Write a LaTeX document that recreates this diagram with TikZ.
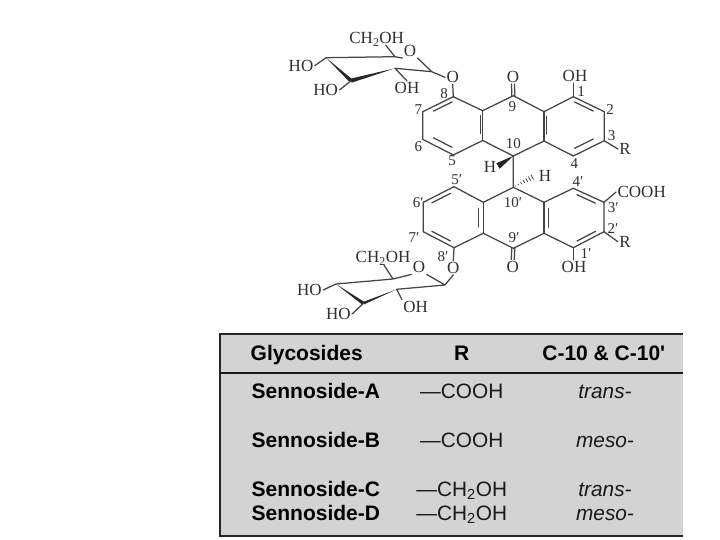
\documentclass[tikz,border=0pt]{standalone}
\usepackage{fontspec}
\setmainfont{Liberation Serif}
\newfontfamily\tabfont{Liberation Sans}
\usetikzlibrary{calc}
\definecolor{bondc}{HTML}{444444}
\definecolor{inkc}{HTML}{303030}
\definecolor{tabbg}{HTML}{D3D3D3}
\tikzset{
  x=1pt,y=-1pt,
  bond/.style={draw=bondc,line width=1.25pt,line cap=round},
  atomlab/.style={inner sep=0pt,outer sep=1.5pt,text=inkc,font=\fontsize{17}{17}\selectfont,text height=11.2pt,text depth=0pt},
  numlab/.style={inner sep=0pt,text=inkc,font=\fontsize{15}{15}\selectfont,text height=10pt,text depth=0pt},
  wedgefill/.style={fill=black!85,draw=none},
  tabbold/.style={inner sep=0pt,text=black,font=\tabfont\bfseries\fontsize{21}{21}\selectfont,text height=15pt,text depth=0pt},
  tabreg/.style={inner sep=0pt,text=black!90,font=\tabfont\fontsize{20.8}{21}\selectfont,text height=14.9pt,text depth=0pt},
  tabital/.style={tabreg,font=\tabfont\itshape\fontsize{20.8}{21}\selectfont},
}
% inner line of a double bond: \dbl{a}{b}{towards}
\newcommand{\dbl}[3]{%
  \draw[bond] (#1) -- (#2);
  \draw[bond] ($(#1)!0.14!(#2)!0.16!(#3)$) -- ($(#2)!0.14!(#1)!0.16!(#3)$);
}
\begin{document}
\begin{tikzpicture}
\useasboundingbox (0,0) rectangle (720,540);
\fill[white] (0,0) rectangle (720,540);

% ---------- table
\fill[tabbg] (220,334.3) rectangle (682.7,536);
\draw[black!85,line width=1.7pt] (682.7,334.3) -- (220,334.3) -- (220,536) -- (682.7,536);
\draw[black!90,line width=2.2pt] (220,372.7) -- (682.7,372.7);
\node[tabbold] (hg) at (306.7,353) {Glycosides};
\node[tabbold] (hr) at (461.7,353) {R};
\node[tabbold] (hc) at (603.8,353) {C-10 \& C-10'};
\node[tabbold,anchor=west] (sa) at (251.5,391) {Sennoside-A};
\node[tabbold,anchor=west] (sb) at (251.5,440) {Sennoside-B};
\node[tabbold,anchor=west] (sc) at (251.5,489) {Sennoside-C};
\node[tabbold,anchor=west] (sd) at (251.5,512.7) {Sennoside-D};
\node[tabreg] (ra) at (461.7,391) {—COOH};
\node[tabreg] (rb) at (461.7,440) {—COOH};
\node[tabreg] (rc) at (461.7,489) {—CH\textsubscript{2}OH};
\node[tabreg] (rd) at (461.7,512.7) {—CH\textsubscript{2}OH};
\node[tabital] (ca) at (605,391.5) {trans-};
\node[tabital] (cb) at (605,440.5) {meso-};
\node[tabital] (cc) at (605,489.5) {trans-};
\node[tabital] (cd) at (605,513) {meso-};

% ---------- upper anthrone skeleton
\coordinate (c1) at (573.3,96.7);
\coordinate (c2) at (604.3,111.7);
\coordinate (c3) at (604.3,140.7);
\coordinate (c4) at (573.3,156);
\coordinate (c4a) at (544,141);
\coordinate (c9a) at (544,111.7);
\coordinate (c9) at (513.3,95.7);
\coordinate (c10) at (513.3,156);
\coordinate (c10a) at (482.7,140.5);
\coordinate (c8a) at (482.7,110.7);
\coordinate (c8) at (453.3,96.7);
\coordinate (c7) at (422.7,111.7);
\coordinate (c6) at (422.7,139.3);
\coordinate (c5) at (453.3,155);
\coordinate (rR) at ($(c1)!0.5!(c4a)$);
\coordinate (rL) at ($(c8)!0.5!(c10a)$);
\coordinate (rM) at ($(c9)!0.5!(c10)$);

\draw[bond] (c8)--(c8a) (c7)--(c6) (c5)--(c10a) (c10a)--(c10) (c10)--(c4a)
  (c8a)--(c9) (c9)--(c9a) (c9a)--(c1) (c2)--(c3) (c4)--(c4a);
\dbl{c8}{c7}{rL}
\dbl{c6}{c5}{rL}
\dbl{c8a}{c10a}{rL}
\dbl{c9a}{c4a}{rR}
\dbl{c1}{c2}{rR}
\dbl{c3}{c4}{rR}

\node[atomlab] (o9) at (513,77) {O};
\draw[bond] ($(c9)+(-1.5,0)$) -- ($(o9.south)+(-1.5,0)$);
\draw[bond] ($(c9)+(1.5,0)$) -- ($(o9.south)+(1.5,0)$);
\node[atomlab] (oh1) at (575,76) {OH};
\draw[bond] (c1) -- (oh1.south -| c1);
\node[atomlab] (r3) at (625,149) {R};
\draw[bond] (c3) -- (r3.west);

% ---------- lower anthrone skeleton
\coordinate (d10) at (513.3,187.3);
\coordinate (d4a) at (544,202.3);
\coordinate (d4) at (573.3,188.3);
\coordinate (d3) at (604,202.3);
\coordinate (d2) at (604,231.7);
\coordinate (d1) at (573.3,247.7);
\coordinate (d9a) at (544,233.3);
\coordinate (d9) at (513.3,248.3);
\coordinate (d8a) at (483.3,233.3);
\coordinate (d10a) at (483.3,202.3);
\coordinate (d5) at (454,186.7);
\coordinate (d6) at (423.3,202.3);
\coordinate (d7) at (423.3,231.7);
\coordinate (d8) at (454,247.7);
\coordinate (sR) at ($(d4)!0.5!(d1)$);
\coordinate (sL) at ($(d5)!0.5!(d8)$);

\draw[bond] (c10)--(d10) (d10)--(d10a) (d10)--(d4a) (d10a)--(d5) (d6)--(d7)
  (d8)--(d8a) (d8a)--(d9) (d9)--(d9a) (d9a)--(d1) (d4a)--(d4) (d3)--(d2);
\dbl{d10a}{d8a}{sL}
\dbl{d5}{d6}{sL}
\dbl{d7}{d8}{sL}
\dbl{d9a}{d4a}{sR}
\dbl{d4}{d3}{sR}
\dbl{d2}{d1}{sR}

\node[atomlab] (o9p) at (512.7,266.7) {O};
\draw[bond] ($(d9)+(-1.5,0)$) -- ($(o9p.north)+(-1.5,0)$);
\draw[bond] ($(d9)+(1.5,0)$) -- ($(o9p.north)+(1.5,0)$);
\node[atomlab] (oh1p) at (574,267) {OH};
\draw[bond] (d1) -- (oh1p.north -| d1);
\node[atomlab] (cooh) at (641.7,192) {COOH};
\draw[bond] (d3) -- (cooh.west);
\node[atomlab] (r2) at (625,241.7) {R};
\draw[bond] (d2) -- (r2.west);

% ---------- stereo bonds at C-10 and C-10'
\node[atomlab] (h10) at (490,167) {H};
\coordinate (w10) at (498,166);
\fill[wedgefill] (c10) -- ($(w10)+(-1.6,-2.8)$) -- ($(w10)+(1.6,2.8)$) -- cycle;
\node[atomlab] (h10p) at (545,175.7) {H};
\coordinate (w10p) at (533,176.7);
\foreach \t/\h in {0.12/0.4,0.26/0.8,0.40/1.2,0.54/1.6,0.68/2.0,0.82/2.4,0.96/2.8}{
  \draw[draw=bondc,line width=.8pt]
    ($($(d10)!\t!(w10p)$)+(-0.45*\h,-0.85*\h)$) -- ($($(d10)!\t!(w10p)$)+(0.45*\h,0.85*\h)$);
}

% ---------- upper sugar
\coordinate (a5) at (326,57.7);
\coordinate (a4) at (351,80.7);
\coordinate (a3) at (395,68.3);
\coordinate (a1) at (431.7,71.7);
\coordinate (a6) at (395,56.7);
\node[atomlab] (ao) at (410,51) {O};
\node[atomlab] (ach) at (376.7,38) {CH\textsubscript{2}OH};
\node[atomlab] (aho1) at (301,65.7) {HO};
\node[atomlab] (aho2) at (325.7,90) {HO};
\node[atomlab] (aoh) at (407,88) {OH};
\node[atomlab] (alink) at (452.7,77.3) {O};
\fill[wedgefill] (a5) -- ($(a4)+(-1.5,1.2)$) -- ($(a4)+(1.5,-1.2)$) -- cycle;
\fill[wedgefill] (a3) -- ($(a4)+(.6,2)$) -- ($(a4)+(-.6,-2)$) -- cycle;
\draw[bond] (a5)--(a6) (a6)--(ao.south west) (ao.south east)--(a1) (a3)--(a1)
  (a5)--(aho1.east) (a4)--(aho2.east) (a3)--(aoh.north)
  (a6)--($(ach.south)+(9,0)$) (a1)--(alink.west) (alink.south)--(c8);

% ---------- lower sugar
\coordinate (b5) at (336,284);
\coordinate (b4) at (363.3,303.3);
\coordinate (b3) at (396.7,289.3);
\coordinate (b1) at (445,285);
\coordinate (b6) at (393,279);
\node[atomlab] (bo) at (419,267.3) {O};
\node[atomlab] (bch) at (383,257) {CH\textsubscript{2}OH};
\node[atomlab] (bho1) at (309.3,290) {HO};
\node[atomlab] (bho2) at (338.3,314) {HO};
\node[atomlab] (boh) at (415.7,306.7) {OH};
\node[atomlab] (blink) at (453.3,267.7) {O};
\fill[wedgefill] (b5) -- ($(b4)+(-1.2,1.2)$) -- ($(b4)+(1.2,-1.2)$) -- cycle;
\fill[wedgefill] (b3) -- ($(b4)+(.5,1.2)$) -- ($(b4)+(-.5,-1.2)$) -- cycle;
\draw[bond] (b5)--(b6) (b6)--(bo.south west) (bo.south east)--(b1) (b3)--(b1)
  (b5)--(bho1.east) (b4)--(bho2.east) (b3)--(boh.north west)
  (b6)--($(bch.south)+(1,1)$) (b1)--(blink.south) (blink.north)--(d8);

% ---------- locants
\node[numlab] (n1) at (581,91.7) {1};
\node[numlab] (n2) at (610,110) {2};
\node[numlab] (n3) at (611.7,136) {3};
\node[numlab] (n4) at (574.3,163.3) {4};
\node[numlab] (n5) at (452,161) {5};
\node[numlab] (n6) at (418.3,146.7) {6};
\node[numlab] (n7) at (418.3,110) {7};
\node[numlab] (n8) at (444,93.3) {8};
\node[numlab] (n9) at (512.3,106.7) {9};
\node[numlab] (n10) at (513.3,144) {10};
\node[numlab] (p1) at (586,253.3) {1′};
\node[numlab] (p2) at (613,228.3) {2′};
\node[numlab] (p3) at (613.3,207) {3′};
\node[numlab] (p4) at (578,181.7) {4′};
\node[numlab] (p5) at (456.7,180) {5′};
\node[numlab] (p6) at (418.3,202.3) {6′};
\node[numlab] (p7) at (414,237.7) {7′};
\node[numlab] (p8) at (443,256) {8′};
\node[numlab] (p9) at (514,237.7) {9′};
\node[numlab] (p10) at (513,202.7) {10′};
\end{tikzpicture}
\end{document}
